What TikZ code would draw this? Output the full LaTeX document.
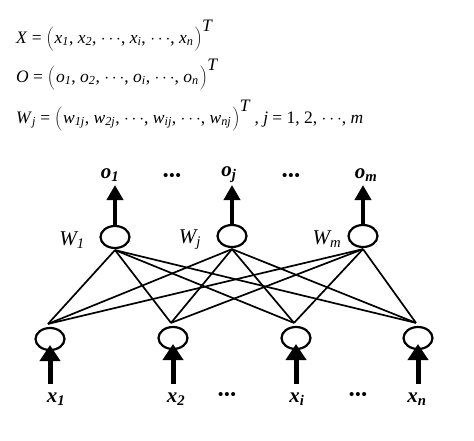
\documentclass[tikz,border=0pt]{standalone}
\usepackage{fontspec}
\setmainfont{Liberation Serif}
\usetikzlibrary{arrows.meta,shapes.geometric}
\newcommand\dts{\textbullet\kern1pt\textbullet\kern1pt\textbullet}
\newcommand\isub[2]{\textit{#1}\textsubscript{\textit{#2}}}
\newcommand\lpar{$\left(\vrule height 15pt depth 7pt width 0pt\right.$}
\newcommand\rpar{$\left.\vrule height 15pt depth 7pt width 0pt\right)^{\textit{T}}$}
\begin{document}
\begin{tikzpicture}[x=1pt,y=-1pt,
  neuron/.style={draw,line width=2.2pt,ellipse,minimum width=29pt,minimum height=22pt,inner sep=0pt},
  link/.style={line width=1.7pt},
  outarrow/.style={line width=4.5pt,-{Triangle[width=16pt,length=15pt]}},
  inarrow/.style={line width=5pt,-{Triangle[width=20pt,length=16pt]}},
  lab/.style={font=\fontsize{21}{22}\selectfont\bfseries\itshape,inner sep=0pt},
  wlab/.style={font=\fontsize{21}{22}\selectfont\itshape,inner sep=0pt},
  dotlab/.style={font=\fontsize{15}{16}\selectfont\bfseries,inner sep=0pt},
  formula/.style={font=\fontsize{17.5}{19}\selectfont,anchor=base west,inner sep=0pt}]
\useasboundingbox (0,0) rectangle (474,440);
% formulas
\node[formula] (f1) at (16,43) {\textit{X} = \lpar\isub{x}{1}, \isub{x}{2}, $\cdots$, \isub{x}{i}, $\cdots$, \isub{x}{n}\rpar};
\node[formula] (f2) at (16,82) {\textit{O} = \lpar\isub{o}{1}, \isub{o}{2}, $\cdots$, \isub{o}{i}, $\cdots$, \isub{o}{n}\rpar};
\node[formula] (f3) at (16,123) {\isub{W}{j} = \lpar\isub{w}{1j}, \isub{w}{2j}, $\cdots$, \isub{w}{ij}, $\cdots$, \isub{w}{nj}\rpar\ , \textit{j} = 1, 2, $\cdots$, \textit{m}};
% output neurons
\node[neuron] (o1) at (115,237) {};
\node[neuron] (o2) at (232,236) {};
\node[neuron] (o3) at (363,236) {};
% input neurons
\node[neuron] (i1) at (50,339) {};
\node[neuron] (i2) at (173,338) {};
\node[neuron] (i3) at (296,338) {};
\node[neuron] (i4) at (418,338) {};
% connections
\foreach \i in {i1,i2,i3,i4}
  \foreach \o in {o1,o2,o3}
    \draw[link] ([yshift=3pt,xshift=-2pt]\i.north) -- ([yshift=-1pt]\o.south);
% output arrows
\coordinate (a1) at (115,185);
\coordinate (a2) at (232,185);
\coordinate (a3) at (363,185);
\draw[outarrow] (o1.north) -- (a1);
\draw[outarrow] (o2.north) -- (a2);
\draw[outarrow] (o3.north) -- (a3);
% input arrows
\coordinate (b1) at (50,384);
\coordinate (b2) at (173,384);
\coordinate (b3) at (296,384);
\coordinate (b4) at (418,384);
\draw[inarrow] (b1) -- ([yshift=-6pt]i1.center);
\draw[inarrow] (b2) -- ([yshift=-6pt]i2.center);
\draw[inarrow] (b3) -- ([yshift=-6pt]i3.center);
\draw[inarrow] (b4) -- ([yshift=-6pt]i4.center);
% output labels
\node[lab] (lo1) at (110,175) {o\textsubscript{1}};
\node[lab] (lo2) at (229,175) {o\textsubscript{j}};
\node[lab] (lo3) at (366,175) {o\textsubscript{m}};
\node[dotlab] (d1) at (172,177) {\dts};
\node[dotlab] (d2) at (291,177) {\dts};
% weight labels
\node[wlab] (w1) at (72,240) {W\textsubscript{1}};
\node[wlab] (w2) at (190,240) {W\textsubscript{j}};
\node[wlab] (w3) at (327,239) {W\textsubscript{m}};
% input labels
\node[lab] (lx1) at (56,399) {x\textsubscript{1}};
\node[lab] (lx2) at (176,399) {x\textsubscript{2}};
\node[lab] (lx3) at (297,399) {x\textsubscript{i}};
\node[lab] (lx4) at (417,399) {x\textsubscript{n}};
\node[dotlab] (d3) at (227,396) {\dts};
\node[dotlab] (d4) at (358,396) {\dts};
\end{tikzpicture}
\end{document}
